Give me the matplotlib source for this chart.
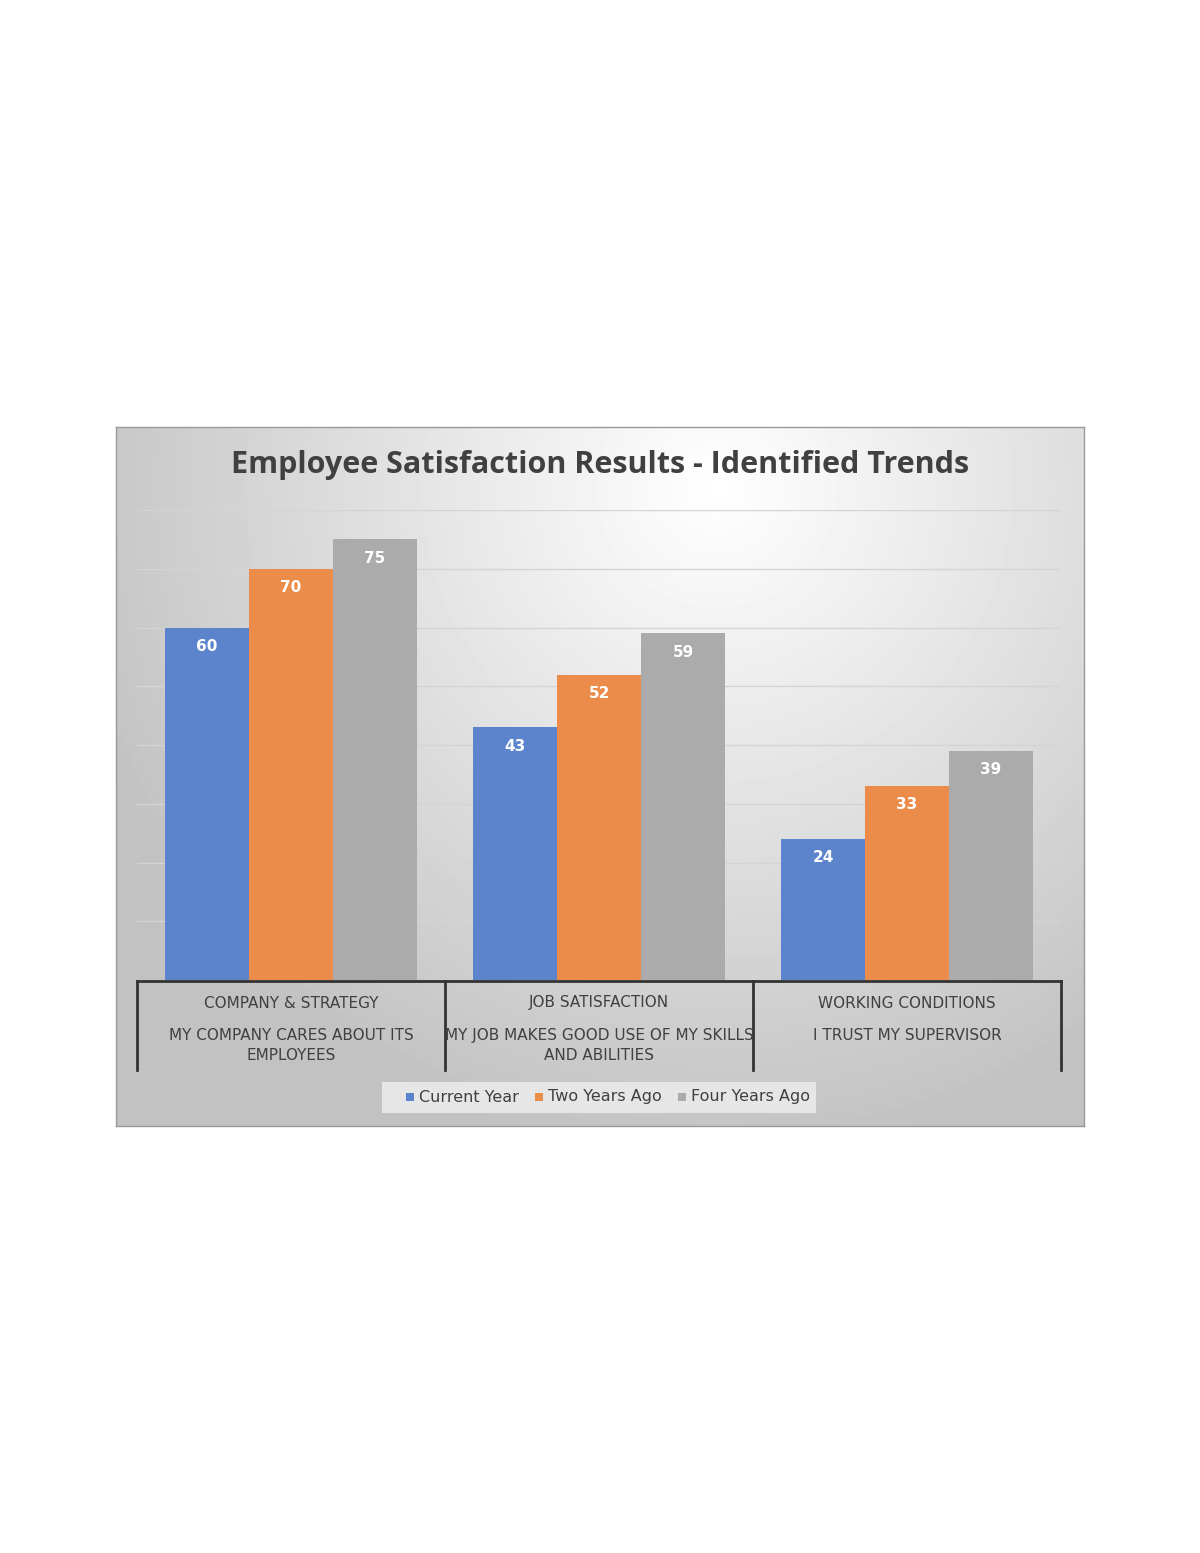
import numpy as np
import matplotlib
matplotlib.use("Agg")
import matplotlib.pyplot as plt
from matplotlib.patches import Rectangle

categories = ["COMPANY & STRATEGY", "JOB SATISFACTION", "WORKING CONDITIONS"]
questions = ["MY COMPANY CARES ABOUT ITS\nEMPLOYEES", "MY JOB MAKES GOOD USE OF MY SKILLS\nAND ABILITIES", "I TRUST MY SUPERVISOR"]
series_names = ["Current Year", "Two Years Ago", "Four Years Ago"]
current_year = [60, 43, 24]
two_years_ago = [70, 52, 33]
four_years_ago = [75, 59, 39]
colors = ["#5B84CC", "#EC8C4A", "#ABABAB"]

W, H = 1200, 1553
fig = plt.figure(figsize=(W/100, H/100), dpi=100)
fig.patch.set_facecolor("white")

def fx(x): return x / W
def fy(y): return 1 - y / H

# background panel with radial gradient
px0, px1, py0, py1 = 116, 1084, 427, 1126
bg = fig.add_axes([fx(px0), fy(py1), (px1-px0)/W, (py1-py0)/H])
yy, xx = np.mgrid[0:py1-py0, 0:px1-px0]
cx, cy = (px1-px0)*0.62, 60
d = np.sqrt(((xx-cx)/700)**2 + ((yy-cy)/700)**2)
v = np.clip(1.0 - 0.25*d, 0.76, 1.0)
bg.imshow(v, cmap="gray", vmin=0, vmax=1, aspect="auto", interpolation="bilinear")
bg.set_xticks([]); bg.set_yticks([])
for s in bg.spines.values():
    s.set_color("#999999"); s.set_linewidth(1)

fig.text(0.5, fy(465), "Employee Satisfaction Results - Identified Trends",
         ha="center", va="center", fontsize=22, fontweight="bold", color="#404040",
         family="Open Sans")

ax = fig.add_axes([fx(137), fy(980), 924/W, 470/H])
ax.patch.set_alpha(0)
ax.set_xlim(-0.5, 2.5); ax.set_ylim(0, 80)
for s in ax.spines.values(): s.set_visible(False)
ax.set_xticks([]); ax.set_yticks([])
for g in range(10, 81, 10):
    ax.axhline(g, color="#d4d4d4", lw=1, zorder=0)
bw = 84/308
x = np.arange(3)
for i, (vals, c) in enumerate(zip([current_year, two_years_ago, four_years_ago], colors)):
    bars = ax.bar(x + (i-1)*bw, vals, width=bw, color=c, zorder=2, label=series_names[i])
    for xi, val in zip(x + (i-1)*bw, vals):
        ax.text(xi, val - 3.2, str(val), ha="center", va="center", color="white",
                fontsize=11, fontweight="bold", zorder=3)

# category axis
fig.add_artist(plt.Line2D([fx(137), fx(1061)], [fy(981), fy(981)], color="#333333", lw=2))
for xv in [137, 445, 753, 1061]:
    fig.add_artist(plt.Line2D([fx(xv), fx(xv)], [fy(981), fy(1070)], color="#333333", lw=2))
for k in range(3):
    xc = fx(137 + 308*k + 154)
    fig.text(xc, fy(1003), categories[k], ha="center", va="center", fontsize=11, color="#404040")
    fig.text(xc, fy(1028), questions[k], ha="center", va="top", fontsize=11, color="#404040",
             linespacing=1.45)

# legend
fig.add_artist(Rectangle((fx(382), fy(1113)), 434/W, 31/H, transform=fig.transFigure,
                         facecolor="#e6e6e6", edgecolor="none"))
lx = [406, 535, 678]
for k in range(3):
    fig.add_artist(Rectangle((fx(lx[k]), fy(1101)), 8/W, 8/H, transform=fig.transFigure,
                             facecolor=colors[k], edgecolor="none"))
    fig.text(fx(lx[k]+13), fy(1097), series_names[k], ha="left", va="center",
             fontsize=11.5, color="#404040")

fig.savefig("out.png", dpi=100)
